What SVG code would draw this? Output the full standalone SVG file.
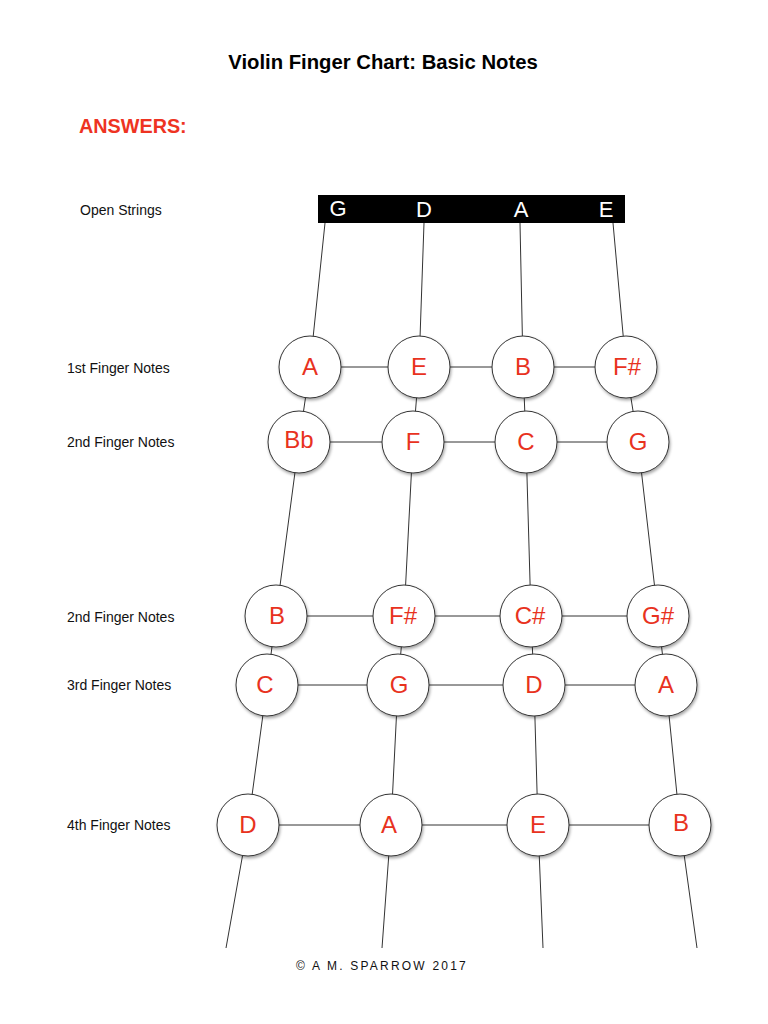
<svg xmlns="http://www.w3.org/2000/svg" width="768" height="1024" viewBox="0 0 768 1024">
<style>
.lbl{font-family:"Liberation Sans",Arial,sans-serif;font-size:14px;fill:#111}
.note{font-family:"Liberation Sans",Arial,sans-serif;font-size:24px;fill:#e8321e;text-anchor:middle}
.open{font-family:"Liberation Sans",Arial,sans-serif;font-size:22px;fill:#fff;text-anchor:middle}
.str{fill:none;stroke:#333;stroke-width:1}
.nc{fill:#fff;stroke:#333;stroke-width:1;filter:url(#sh)}
</style>
<defs>
<filter id="sh" x="-20%" y="-20%" width="150%" height="150%">
<feDropShadow dx="1" dy="2" stdDeviation="1.5" flood-color="#000" flood-opacity="0.35"/>
</filter>
</defs>
<rect width="768" height="1024" fill="#fff"/>
<text x="383" y="69" text-anchor="middle" style="font-family:'Liberation Sans',Arial,sans-serif;font-size:20.3px;font-weight:bold;fill:#000">Violin Finger Chart: Basic Notes</text>
<text x="79" y="133" style="font-family:'Liberation Sans',Arial,sans-serif;font-size:19.8px;font-weight:bold;fill:#ee3322">ANSWERS:</text>
<g id="labels">
<text class="lbl" x="80" y="215">Open Strings</text>
<text class="lbl" x="67" y="373">1st Finger Notes</text>
<text class="lbl" x="67" y="447">2nd Finger Notes</text>
<text class="lbl" x="67" y="622">2nd Finger Notes</text>
<text class="lbl" x="67" y="690">3rd Finger Notes</text>
<text class="lbl" x="67" y="830">4th Finger Notes</text>
</g>
<g id="connectors">
<polyline class="str" points="325,223 310,367 299,442 276,616 267,685 248,825 226,948"/>
<polyline class="str" points="424,223 419,367 413,442 404,616 398,685 391,825 382,948"/>
<polyline class="str" points="520,223 523,367 526,442 531,616 534,685 538,825 543,948"/>
<polyline class="str" points="613,223 626,367 638,442 658,616 666,685 680,825 697,948"/>
<line class="str" x1="310" y1="367" x2="626" y2="367"/>
<line class="str" x1="299" y1="442" x2="638" y2="442"/>
<line class="str" x1="276" y1="616" x2="658" y2="616"/>
<line class="str" x1="267" y1="685" x2="666" y2="685"/>
<line class="str" x1="248" y1="825" x2="680" y2="825"/>
</g>
<g id="open-strings">
<rect x="318" y="195" width="307" height="28" fill="#000"/>
<text class="open" x="338" y="216">G</text>
<text class="open" x="424" y="217">D</text>
<text class="open" x="521" y="217">A</text>
<text class="open" x="606" y="217">E</text>
</g>
<g id="n1-A"><circle class="nc" cx="310" cy="367" r="31"/><text class="note" x="310" y="375">A</text></g>
<g id="n1-E"><circle class="nc" cx="419" cy="367" r="31"/><text class="note" x="419" y="375">E</text></g>
<g id="n1-B"><circle class="nc" cx="523" cy="367" r="31"/><text class="note" x="523" y="375">B</text></g>
<g id="n1-Fs"><circle class="nc" cx="626" cy="367" r="31"/><text class="note" x="627" y="375">F#</text></g>
<g id="n2-Bb"><circle class="nc" cx="299" cy="442" r="31"/><text class="note" x="299" y="448">Bb</text></g>
<g id="n2-F"><circle class="nc" cx="413" cy="442" r="31"/><text class="note" x="413" y="450">F</text></g>
<g id="n2-C"><circle class="nc" cx="526" cy="442" r="31"/><text class="note" x="526" y="450">C</text></g>
<g id="n2-G"><circle class="nc" cx="638" cy="442" r="31"/><text class="note" x="638" y="450">G</text></g>
<g id="n3-B"><circle class="nc" cx="276" cy="616" r="31"/><text class="note" x="277" y="624">B</text></g>
<g id="n3-Fs"><circle class="nc" cx="404" cy="616" r="31"/><text class="note" x="403" y="624">F#</text></g>
<g id="n3-Cs"><circle class="nc" cx="531" cy="616" r="31"/><text class="note" x="530" y="624">C#</text></g>
<g id="n3-Gs"><circle class="nc" cx="658" cy="616" r="31"/><text class="note" x="658" y="624">G#</text></g>
<g id="n4-C"><circle class="nc" cx="267" cy="685" r="31"/><text class="note" x="265" y="693">C</text></g>
<g id="n4-G"><circle class="nc" cx="398" cy="685" r="31"/><text class="note" x="399" y="693">G</text></g>
<g id="n4-D"><circle class="nc" cx="534" cy="685" r="31"/><text class="note" x="534" y="693">D</text></g>
<g id="n4-A"><circle class="nc" cx="666" cy="685" r="31"/><text class="note" x="666" y="693">A</text></g>
<g id="n5-D"><circle class="nc" cx="248" cy="825" r="31"/><text class="note" x="248" y="833">D</text></g>
<g id="n5-A"><circle class="nc" cx="391" cy="825" r="31"/><text class="note" x="389" y="833">A</text></g>
<g id="n5-E"><circle class="nc" cx="538" cy="825" r="31"/><text class="note" x="538" y="833">E</text></g>
<g id="n5-B"><circle class="nc" cx="680" cy="825" r="31"/><text class="note" x="681" y="831">B</text></g>
<text x="382" y="970" text-anchor="middle" style="font-family:'Liberation Sans',Arial,sans-serif;font-size:12px;letter-spacing:2.2px;fill:#111">© A M. SPARROW 2017</text>
</svg>
